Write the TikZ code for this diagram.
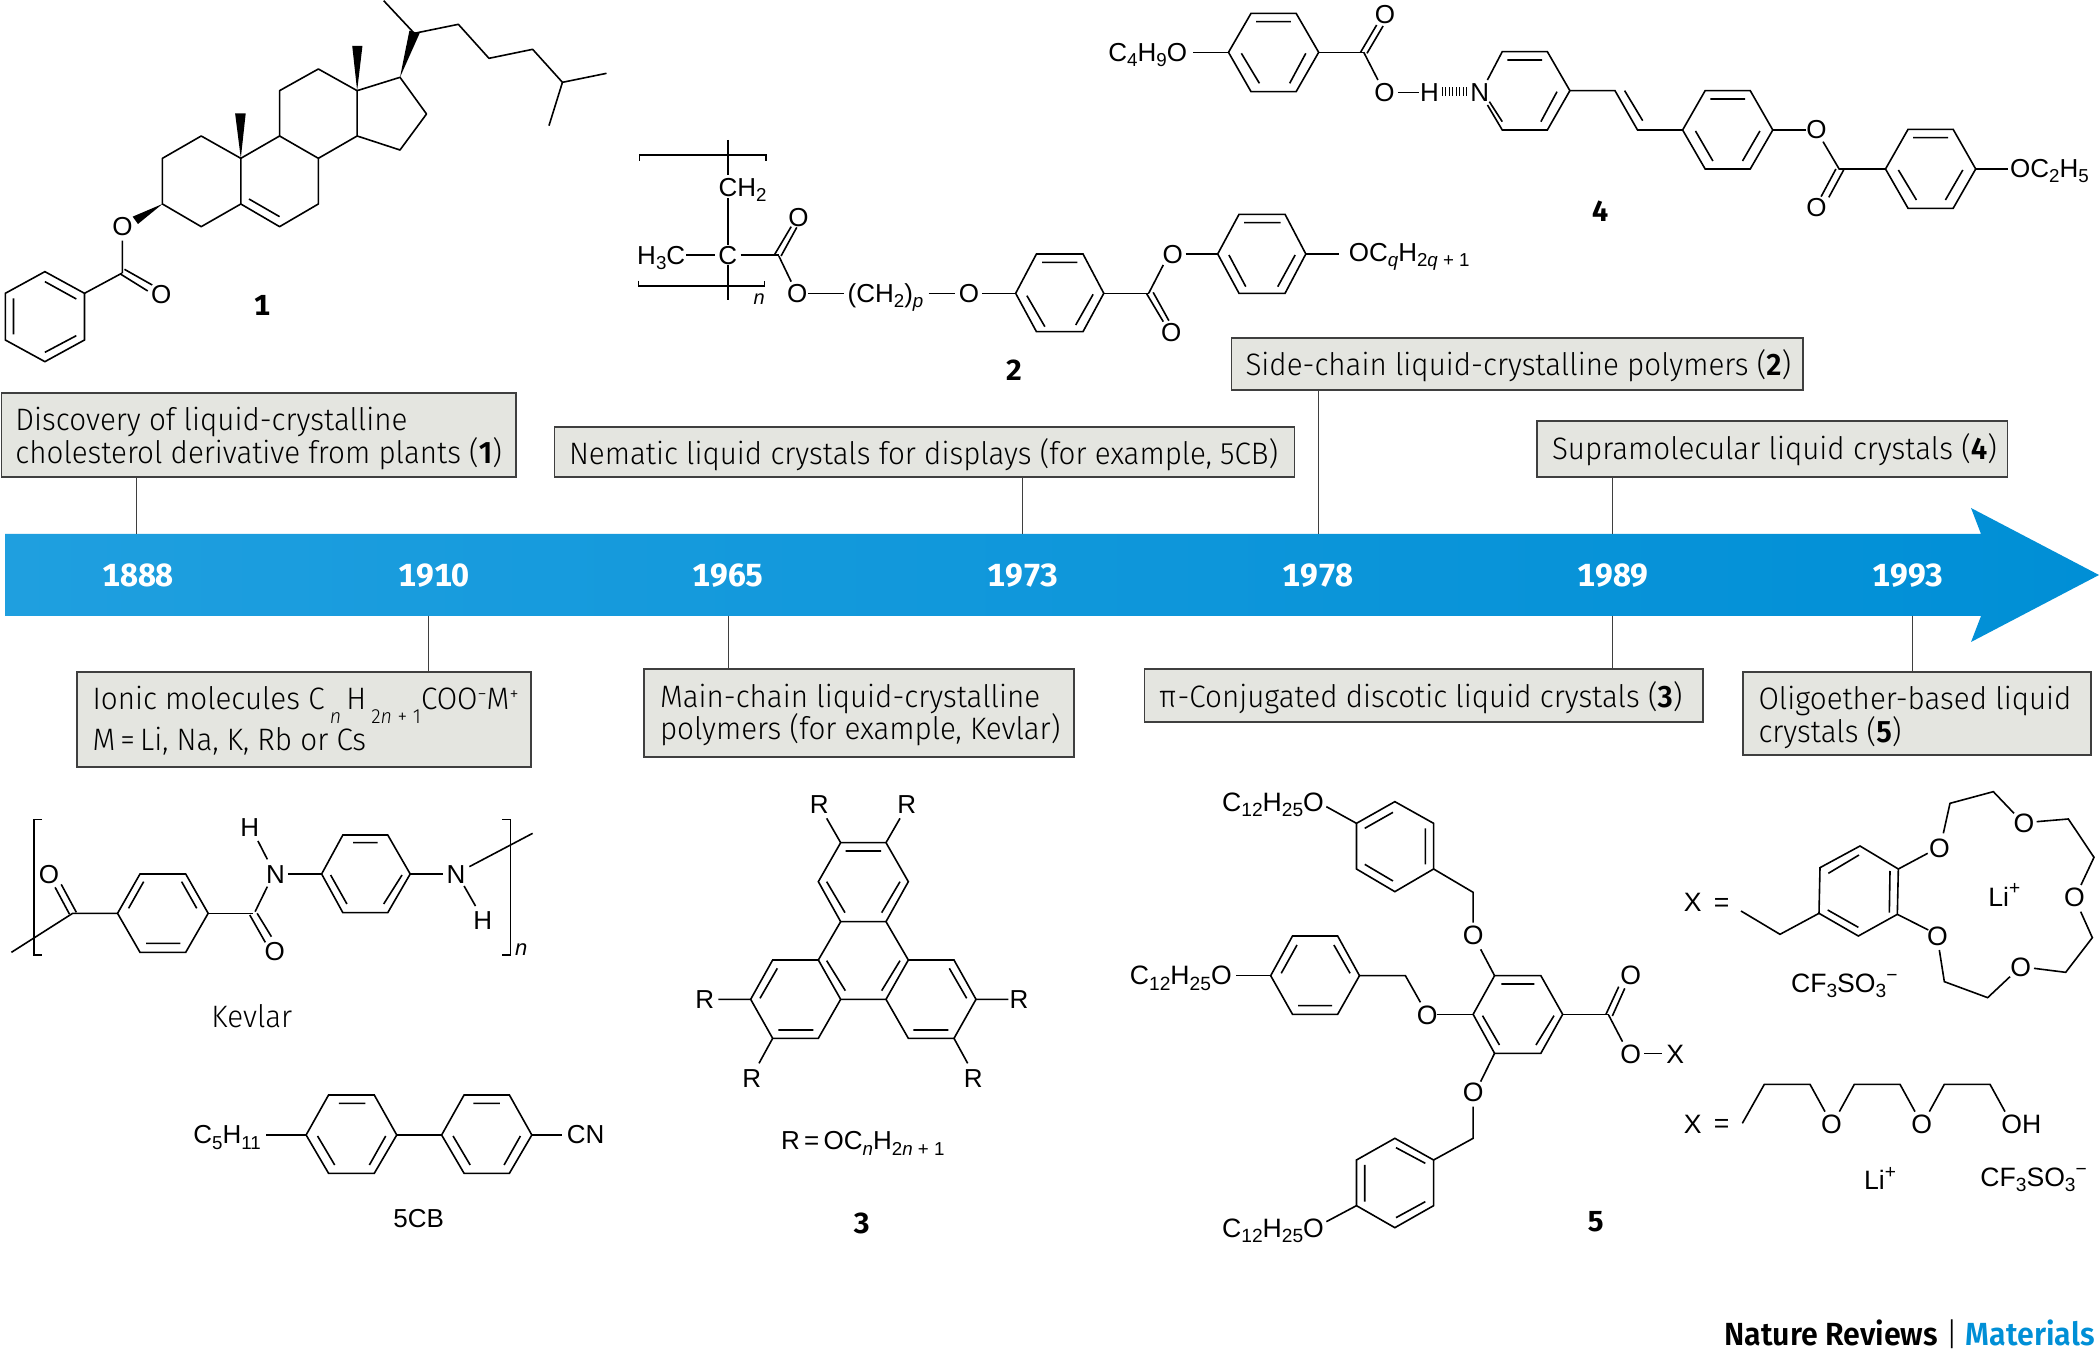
\documentclass[tikz,border=0pt]{standalone}
\usepackage{fontspec}
\usepackage{graphicx}
\setmainfont{Fira Sans Light}[FakeStretch=0.955,BoldFont={Fira Sans SemiBold},ItalicFont={Fira Sans Light Italic}]
\newfontfamily\footf{Fira Sans SemiBold}[FakeStretch=0.95]
\newfontfamily\yearf{Fira Sans Bold}[Numbers=Monospaced]
\newfontfamily\barf{Fira Sans Light}
\newfontfamily\chf{Liberation Sans}
\definecolor{boxfill}{HTML}{E4E5E0}
\definecolor{boxline}{HTML}{3F3F3F}
\definecolor{arrowL}{HTML}{1F9FDF}
\definecolor{arrowM}{HTML}{0099DC}
\definecolor{arrowR}{HTML}{008FD6}
\newcommand\lsb[1]{\raisebox{-0.2em}{\scalebox{0.72}{#1}}}
\newcommand\lsp[1]{\raisebox{0.42em}{\scalebox{0.72}{#1}}}
\def\chs{13}
\tikzset{
  bond/.style={line width=0.8pt,black},
  thinbond/.style={line width=0.65pt,black},
  wedgef/.style={fill=black,draw=none},
  chem/.style={font={\chf\fontsize{\chs}{\chs}\selectfont},inner sep=0pt,text=black},
  chemw/.style={chem,anchor=base west},
  numlab/.style={font={\yearf\fontsize{14.5}{15}\selectfont},inner sep=0pt},
  year/.style={font={\yearf\fontsize{16}{17}\selectfont},text=white,inner sep=0pt},
  tboxst/.style={draw=boxline,fill=boxfill,line width=0.75pt,inner sep=0pt,outer sep=0pt,anchor=north west,
    font={\fontsize{15.5}{18}\selectfont}},
  conn/.style={draw=boxline,line width=0.55pt},
}
% name, x1, y1, x2, y2, text left, baseline, content
\newcommand\tbox[8]{%
  \pgfmathsetlengthmacro\tw{(#4-#2)*0.5pt}%
  \pgfmathsetlengthmacro\lp{(#6-#2)*0.5pt}%
  \pgfmathsetlengthmacro\thh{(#7-#3)*0.5pt}%
  \pgfmathsetlengthmacro\tdd{(#5-#7)*0.5pt}%
  \node[tboxst,text height=\thh,text depth=\tdd] (#1) at (#2,#3) {\makebox[\tw][l]{\hspace*{\lp}#8}};%
}
\newcommand\lineone[1]{\rlap{#1}}
\newcommand\linetwo[2]{\rlap{\raisebox{-#1}[0pt][0pt]{#2}}}
\begin{document}
\begin{tikzpicture}[x=0.5pt,y=-0.5pt]
\useasboundingbox (0,0) rectangle (2100,1352);
\fill[white] (0,0) rectangle (2100,1352);

% ---------- timeline arrow
\shade[left color=arrowL,middle color=arrowM,right color=arrowR]
  (5,534)--(1981,534)--(1971,508)--(2099,575)--(1971,642)--(1981,616)--(5,616)--cycle;
\foreach \n/\x in {1888/138,1910/434,1965/728,1973/1023,1978/1318,1989/1613,1993/1908}
  \node[year] (y\n) at (\x,575.5) {\n};
\foreach \n/\x in {1888/136.5,1973/1022.5,1978/1318.5,1989/1612.5}
  \coordinate (up\n) at (\x,534);
\foreach \n/\x in {1910/428.5,1965/728.5,1989/1612.5,1993/1912.5}
  \coordinate (dn\n) at (\x,616);

% ---------- text boxes
\tbox{bOne}{1.5}{393}{516}{477}{15.5}{431}{\lineone{Discovery of liquid-crystalline}\linetwo{16.5pt}{cholesterol derivative from plants (\textbf{1})}}
\tbox{bNem}{554.5}{427}{1294.5}{477}{569}{465}{Nematic liquid crystals for displays (for example, 5CB)}
\tbox{bSide}{1231.5}{338}{1803}{390}{1245.5}{376}{Side-chain liquid-crystalline polymers (\textbf{2})}
\tbox{bSupra}{1537}{421}{2007.5}{477}{1552}{460}{Supramolecular liquid crystals (\textbf{4})}
\tbox{bIon}{77}{672}{531}{767}{92.5}{710}{\lineone{Ionic molecules C\,\raisebox{-0.42em}{\scalebox{0.66}{\textit{n}}}\,H\,\raisebox{-0.42em}{\scalebox{0.66}{2\textit{n}\;+\;1}}COO\raisebox{0.3em}{\scalebox{0.62}{−}}M\raisebox{0.3em}{\scalebox{0.62}{+}}}\linetwo{20.5pt}{M\,=\,Li, Na, K, Rb or Cs}}
\tbox{bMain}{644}{669}{1074}{757}{660}{708}{\lineone{Main-chain liquid-crystalline}\linetwo{16pt}{polymers (for example, Kevlar)}}
\tbox{bPi}{1144.5}{669}{1703}{722}{1159}{708}{π\kern0.6pt-Conjugated discotic liquid crystals (\textbf{3})}
\tbox{bOli}{1743}{672}{2091}{755}{1758.5}{710}{\lineone{Oligoether-based liquid}\linetwo{16.5pt}{crystals (\textbf{5})}}

\draw[conn] (up1888) -- (up1888 |- bOne.south);
\draw[conn] (up1973) -- (up1973 |- bNem.south);
\draw[conn] (up1978) -- (up1978 |- bSide.south);
\draw[conn] (up1989) -- (up1989 |- bSupra.south);
\draw[conn] (dn1910) -- (dn1910 |- bIon.north);
\draw[conn] (dn1965) -- (dn1965 |- bMain.north);
\draw[conn] (dn1989) -- (dn1989 |- bPi.north);
\draw[conn] (dn1993) -- (dn1993 |- bOli.north);

% ---------- molecule 1
\def\chs{13}
\begin{scope}[xscale=0.40816,yscale=0.33333]
\draw[bond] (110,815)--(207,880)--(207,1020)--(110,1085)--(13,1020)--(13,880)--cycle;
\draw[bond] (110,845)--(187,897) (33,895)--(33,1003) (110,1057)--(187,1007);
\draw[bond] (207,880)--(298,820) (300,722)--(300,820);
\draw[bond] (295,822)--(362,873) (305,808)--(373,855);
\node[chem] (o1a) at (300,680) {O};
\node[chem] (o1b) at (395,883) {O};
\fill[wedgef] (398,612)--(325,650)--(338,672)--cycle;
\draw[bond,line join=round] (398,612)--(398,475)--(493,408)--(590,475)--(590,612)--(493,680)--cycle;
\draw[bond,line join=round] (590,475)--(685,408)--(780,475)--(780,612)--(685,680)--(590,612);
\draw[bond] (610,597)--(685,650);
\draw[bond,line join=round] (685,408)--(685,272)--(780,207)--(875,272)--(875,408)--(780,475);
\draw[bond,line join=round] (875,272)--(980,232)--(1045,342)--(980,450)--(875,408);
\fill[wedgef] (590,475)--(576,340)--(602,340)--cycle;
\fill[wedgef] (875,272)--(863,138)--(888,138)--cycle;
\fill[wedgef] (980,232)--(1003,92)--(1028,100)--cycle;
\draw[bond,line join=round] (940,2)--(1015,100)--(1123,73)--(1198,175)--(1305,148)--(1378,247)--(1486,220);
\draw[bond] (1378,247)--(1345,377);
\node[numlab] (n1) at (642,915) {1};
\end{scope}

% ---------- molecule 2
\def\chs{13}
\begin{scope}[shift={(620,130)},xscale=0.56122,yscale=0.33333]
\draw[thinbond] (35,92)--(35,75)--(260,75)--(260,92);
\draw[thinbond] (33,452)--(33,468)--(258,468)--(258,452);
\draw[bond] (192,30)--(192,135) (192,205)--(192,345) (192,405)--(192,510);
\node[chemw] (m2a) at (175,200) {CH\lsb{2}};
\node[chemw] (m2b) at (30,403) {H\lsb{3}C};
\node[chem] (m2c) at (192,378) {C};
\draw[bond] (118,375)--(170,375) (215,375)--(283,375);
\draw[bond] (275,375)--(305,290) (287,378)--(315,292) (283,378)--(305,455);
\node[chem] (m2d) at (318,262) {O};
\node[chem] (m2e) at (316,492) {O};
\draw[bond] (335,490)--(400,490);
\node[chemw] (m2f) at (405,517) {(CH\lsb{2})\lsb{\textit{p}}};
\draw[bond] (550,490)--(597,490);
\node[chem] (m2g) at (622,492) {O};
\draw[bond] (645,490)--(705,490);
\draw[bond] (705,490)--(742,372)--(825,372)--(862,490)--(825,605)--(742,605)--cycle;
\draw[bond] (752,397)--(815,397) (725,497)--(757,590) (843,493)--(812,585);
\draw[bond] (862,490)--(942,490);
\draw[bond] (938,490)--(968,575) (950,487)--(978,572) (942,490)--(968,405);
\node[chem] (m2h) at (982,607) {O};
\node[chem] (m2i) at (985,375) {O};
\draw[bond] (1008,372)--(1065,372);
\draw[bond] (1065,372)--(1103,253)--(1185,253)--(1222,372)--(1185,490)--(1103,490)--cycle;
\draw[bond] (1112,278)--(1177,278) (1085,375)--(1115,470) (1203,375)--(1172,470);
\draw[bond] (1222,372)--(1282,372);
\node[chemw] (m2j) at (1298,395) {OC\lsb{\textit{q}}H\lsb{2\textit{q}\;+\;1}};
\node[chem,font={\chf\itshape\fontsize{10}{10}\selectfont}] (m2n) at (248,507) {n};
\node[numlab] (n2) at (702,722) {2};
\end{scope}

% ---------- molecule 4
\def\chs{13}
\begin{scope}[shift={(1090,0)},xscale=0.64413,yscale=0.33333]
\node[chemw] (m4a) at (28,185) {C\lsb{4}H\lsb{9}O};
\draw[bond] (160,157)--(215,157);
\draw[bond] (215,157)--(250,40)--(320,40)--(355,157)--(320,275)--(250,275)--cycle;
\draw[bond] (258,65)--(312,65) (235,160)--(263,250) (335,160)--(310,250);
\draw[bond] (355,157)--(425,157);
\draw[bond] (420,157)--(445,75) (430,160)--(455,78) (425,157)--(447,240);
\node[chem] (m4b) at (458,45) {O};
\node[chem] (m4c) at (457,278) {O};
\draw[bond] (478,277)--(510,277);
\node[chem] (m4h) at (527,278) {H};
\node[chem] (m4n) at (605,277) {N};
\draw[bond] (617,240)--(640,155)--(710,155)--(745,272)--(710,390)--(640,390)--(617,315);
\draw[bond] (648,180)--(702,180) (725,275)--(700,365) (640,365)--(620,305);
\draw[bond] (745,272)--(815,272)--(850,390)--(920,390);
\draw[bond] (830,272)--(858,362);
\draw[bond] (920,390)--(955,272)--(1025,272)--(1060,390)--(1025,507)--(955,507)--cycle;
\draw[bond] (963,297)--(1017,297) (940,393)--(967,483) (1040,393)--(1013,483);
\draw[bond] (1060,390)--(1112,390);
\node[chem] (m4d) at (1128,390) {O};
\draw[bond] (1138,425)--(1163,507)--(1235,507);
\draw[bond] (1158,507)--(1135,590) (1170,510)--(1147,592);
\node[chem] (m4e) at (1128,622) {O};
\draw[bond] (1235,507)--(1270,388)--(1340,388)--(1375,507)--(1340,625)--(1270,625)--cycle;
\draw[bond] (1278,413)--(1332,413) (1255,510)--(1283,600) (1355,510)--(1328,600);
\draw[bond] (1375,507)--(1425,507);
\node[chemw] (m4f) at (1428,533) {OC\lsb{2}H\lsb{5}};
\node[numlab] (n4) at (792,635) {4};
\end{scope}
\foreach \i in {0,...,7}
  \draw[line width=0.5pt,black] (1442+3.5*\i,87.5)--(1442+3.5*\i,96);

% ---------- Kevlar and 5CB
\def\chs{13}
\begin{scope}[shift={(0,780)},xscale=0.40816,yscale=0.33333]
\draw[thinbond] (103,118)--(83,118)--(83,525)--(103,525);
\draw[thinbond] (1230,118)--(1250,118)--(1250,525)--(1230,525);
\node[chem,font={\chf\itshape\fontsize{11}{11}\selectfont}] (kn) at (1277,510) {n};
\draw[bond] (28,517)--(178,400)--(288,400);
\draw[bond] (150,313)--(187,397) (135,322)--(170,402);
\node[chem] (kO1) at (120,283) {O};
\draw[bond] (288,400)--(343,282)--(455,282)--(510,400)--(455,517)--(343,517)--cycle;
\draw[bond] (352,305)--(315,385) (445,305)--(482,385) (358,490)--(442,490);
\draw[bond] (510,400)--(620,400);
\draw[bond] (612,405)--(650,487) (630,400)--(665,470) (625,395)--(655,320);
\node[chem] (kO2) at (673,515) {O};
\node[chem] (kN1) at (675,283) {N};
\draw[bond] (655,238)--(632,183);
\node[chem] (kH1) at (612,142) {H};
\draw[bond] (705,282)--(788,282);
\draw[bond] (788,282)--(840,165)--(950,165)--(1005,282)--(950,398)--(840,398)--cycle;
\draw[bond] (865,188)--(925,188) (810,285)--(850,372) (985,285)--(940,372);
\draw[bond] (1005,282)--(1085,282);
\node[chem] (kN2) at (1117,283) {N};
\draw[bond] (1150,260)--(1305,160) (1137,318)--(1165,378);
\node[chem] (kH2) at (1183,423) {H};
\node[font={\fontsize{15.5}{18}\selectfont},inner sep=0pt] (kev) at (617,708) {Kevlar};
% 5CB
\node[chemw] (cb1) at (473,1092) {C\lsb{5}H\lsb{11}};
\draw[bond] (652,1065)--(750,1065);
\draw[bond] (750,1065)--(805,945)--(917,945)--(972,1065)--(917,1180)--(805,1180)--cycle;
\draw[bond] (830,970)--(895,970) (778,1068)--(820,1155) (945,1068)--(905,1155);
\draw[bond] (972,1065)--(1082,1065);
\draw[bond] (1082,1065)--(1137,945)--(1248,945)--(1303,1065)--(1248,1180)--(1137,1180)--cycle;
\draw[bond] (1160,970)--(1225,970) (1110,1068)--(1152,1155) (1275,1068)--(1235,1155);
\draw[bond] (1303,1065)--(1378,1065);
\node[chem] (cb2) at (1435,1065) {CN};
\node[chem] (cb3) at (1026,1315) {5CB};
\end{scope}

% ---------- molecule 3
\def\chs{13}
\begin{scope}[shift={(660,770)},scale=0.33333]
\draw[bond] (542,218)--(678,218)--(745,335)--(678,455)--(542,455)--(475,335)--cycle;
\draw[bond] (557,243)--(663,243) (500,335)--(555,428) (720,335)--(665,428);
\draw[bond] (542,455)--(475,570) (678,455)--(745,570);
\draw[bond] (475,570)--(542,688)--(678,688)--(745,570);
\draw[bond] (500,572)--(556,662) (720,572)--(665,662);
\draw[bond] (475,570)--(338,570)--(272,688)--(338,805)--(475,805)--(542,688);
\draw[bond] (352,595)--(300,685) (355,780)--(460,780);
\draw[bond] (745,570)--(882,570)--(948,688)--(882,805)--(745,805)--(678,688);
\draw[bond] (868,595)--(920,685) (760,780)--(865,780);
\draw[bond] (542,218)--(500,145) (678,218)--(720,145) (272,688)--(175,688) (948,688)--(1045,688) (338,805)--(297,880) (882,805)--(923,880);
\node[chem] (r1) at (478,103) {R};
\node[chem] (r2) at (740,103) {R};
\node[chem] (r3) at (134,688) {R};
\node[chem] (r4) at (1077,688) {R};
\node[chem] (r5) at (275,925) {R};
\node[chem] (r6) at (940,925) {R};
\node[chemw] (r7) at (362,1140) {R\,=\,OC\lsb{\textit{n}}H\lsb{2\textit{n}\;+\;1}};
\node[numlab] (n3) at (605,1360) {3};
\end{scope}

% ---------- molecule 5
\def\chs{13.3}
\begin{scope}[shift={(1110,770)},xscale=0.37628,yscale=0.33333]
\node[chemw] (l1) at (297,125) {C\lsb{12}H\lsb{25}O};
\draw[bond] (575,110)--(655,160);
\draw[bond] (757,95)--(860,160)--(860,297)--(757,365)--(655,297)--(655,160)--cycle;
\draw[bond] (677,175)--(752,127) (838,175)--(838,283) (677,283)--(752,333);
\draw[bond] (860,297)--(965,367)--(965,458);
\node[chem] (o1) at (965,497) {O};
\draw[bond] (985,538)--(1022,617);
\draw[bond] (1022,617)--(1145,617)--(1203,733)--(1145,850)--(1022,850)--(965,733)--cycle;
\draw[bond] (1040,642)--(1128,642) (990,737)--(1035,825) (1180,737)--(1132,825);
\draw[bond] (1022,850)--(985,935);
\node[chem] (o2) at (965,967) {O};
\draw[bond] (965,1010)--(965,1105)--(860,1170);
\draw[bond] (757,1105)--(860,1170)--(860,1307)--(757,1373)--(655,1307)--(655,1170)--cycle;
\draw[bond] (760,1133)--(838,1180) (677,1185)--(677,1295) (760,1343)--(838,1295);
\draw[bond] (655,1307)--(575,1355);
\node[chemw] (l2) at (297,1403) {C\lsb{12}H\lsb{25}O};
\node[chemw] (l3) at (52,645) {C\lsb{12}H\lsb{25}O};
\draw[bond] (335,617)--(427,617);
\draw[bond] (427,617)--(485,498)--(605,498)--(663,617)--(605,733)--(485,733)--cycle;
\draw[bond] (455,610)--(497,525) (638,610)--(595,525) (500,707)--(590,707);
\draw[bond] (663,617)--(785,617)--(825,697);
\node[chem] (o3) at (843,735) {O};
\draw[bond] (868,733)--(965,733);
\draw[bond] (1203,733)--(1325,733);
\draw[bond] (1318,733)--(1352,650) (1335,738)--(1368,655) (1325,735)--(1362,815);
\node[chem] (o4) at (1384,617) {O};
\node[chem] (o5) at (1384,853) {O};
\draw[bond] (1420,850)--(1468,850);
\node[chem] (xx) at (1502,853) {X};
\node[numlab] (n5) at (1291,1355) {5};
\end{scope}

% ---------- X groups
\def\chs{13.3}
\begin{scope}[shift={(1660,770)},scale=0.33333]
\node[chem] (x1) at (98,398) {X};
\node[chem] (eq1) at (185,405) {=};
\draw[bond] (243,423)--(360,493)--(477,430);
\draw[bond] (477,430)--(480,293)--(600,228)--(715,297)--(712,433)--(595,498)--cycle;
\draw[bond] (505,310)--(597,255) (690,303)--(688,428) (503,420)--(595,472);
\draw[bond] (715,297)--(803,250);
\node[chem] (c1) at (838,235) {O};
\draw[bond] (850,190)--(870,100)--(1000,65)--(1062,130);
\node[chem] (c2) at (1092,160) {O};
\draw[bond] (1130,155)--(1225,147)--(1302,262)--(1263,345);
\node[chem] (c3) at (1243,382) {O};
\draw[bond] (1262,425)--(1297,503)--(1217,607)--(1122,595);
\node[chem] (c4) at (1082,593) {O};
\draw[bond] (1050,620)--(983,683)--(853,635)--(838,540);
\node[chem] (c5) at (832,500) {O};
\draw[bond] (805,480)--(712,433);
\node[chem] (li1) at (1033,375) {Li\lsp{+}};
\node[chemw] (cf1) at (392,668) {CF\lsb{3}SO\lsb{3}\lsp{−}};
\node[chem] (x2) at (98,1062) {X};
\node[chem] (eq2) at (185,1068) {=};
\draw[bond] (247,1060)--(313,943)--(450,943)--(495,1025);
\node[chem] (e1) at (514,1062) {O};
\draw[bond] (538,1025)--(583,943)--(720,943)--(765,1025);
\node[chem] (e2) at (785,1062) {O};
\draw[bond] (808,1025)--(853,943)--(990,943)--(1035,1025);
\node[chem] (oh) at (1084,1062) {OH};
\node[chem] (li2) at (660,1225) {Li\lsp{+}};
\node[chemw] (cf2) at (960,1250) {CF\lsb{3}SO\lsb{3}\lsp{−}};
\end{scope}

% ---------- footer
\node[anchor=base east,inner sep=0pt,font={\footf\fontsize{16}{18}\selectfont}] (foot) at (2095,1345)
  {Nature Reviews {\barf|} \textcolor{arrowR}{Materials}};
\end{tikzpicture}
\end{document}
